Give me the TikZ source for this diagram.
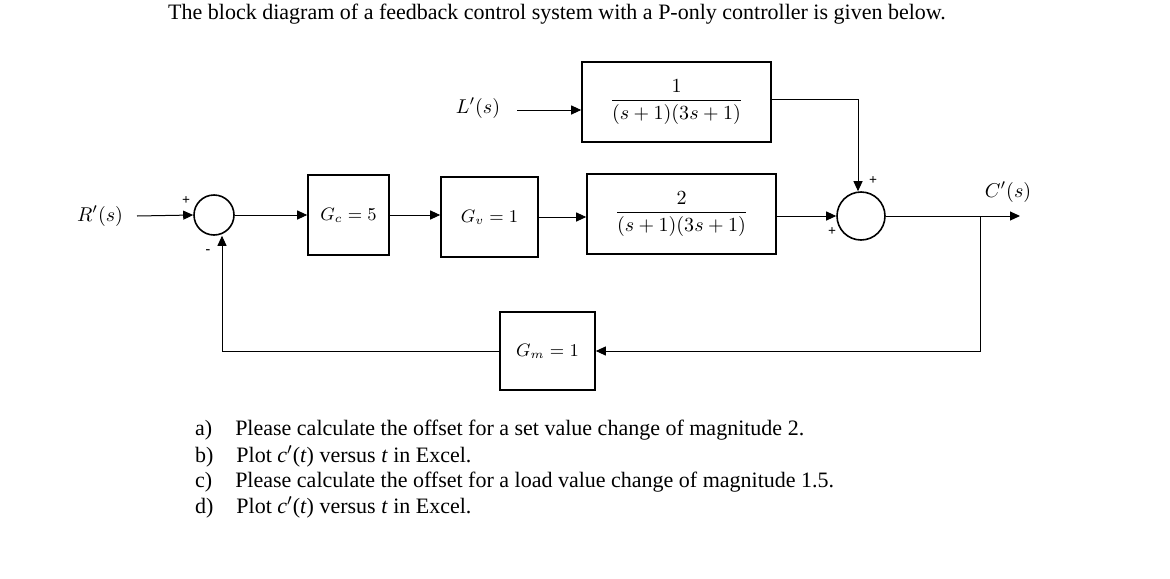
\documentclass[tikz,border=0pt]{standalone}
\usepackage{fontspec}
\setmainfont{Liberation Serif}
\usepackage{amsmath}
\usetikzlibrary{arrows.meta}
\begin{document}
\begin{tikzpicture}[x=0.5pt,y=-0.5pt,
  blk/.style={draw,line width=0.8pt,rectangle},
  sumc/.style={draw,line width=0.8pt,circle,inner sep=0pt},
  sig/.style={draw,line width=0.5pt,-{Triangle[length=5pt,width=4.5pt]}},
  ln/.style={draw,line width=0.5pt},
  sg/.style={font=\fontsize{7}{8}\selectfont\bfseries}]
\useasboundingbox (0,0) rectangle (1170,578);
\node (title) at (557,14) {\fontsize{11}{13}\selectfont The block diagram of a feedback control system with a P-only controller is given below.};
\node (R) at (100,216) {$R'(s)$};
\coordinate (Rs) at (137,216);
\node[sumc,minimum size=40pt*0.5] (s1) at (214,215) {};
\node[blk,minimum width=40.5pt,minimum height=40pt] (gc) at (348.5,215) {\small $G_c = 5$};
\node[blk,minimum width=48.5pt,minimum height=40pt] (gv) at (489.5,217) {\small $G_v = 1$};
\node[blk,minimum width=94.5pt,minimum height=40pt] (gp) at (681.5,214) {$\dfrac{2}{(s+1)(3s+1)}$};
\node (L) at (478,108) {$L'(s)$};
\coordinate (Ls) at (517,110);
\node[blk,minimum width=94.5pt,minimum height=40pt] (gl) at (676.5,102) {$\dfrac{1}{(s+1)(3s+1)}$};
\node[sumc,minimum size=24pt] (s2) at (861,216) {};
\coordinate (br) at (980,216);
\coordinate (out) at (1020,216);
\node (C) at (1008,192) {$C'(s)$};
\node[blk,minimum width=47.5pt,minimum height=39pt] (gm) at (547.5,351) {\small $G_m = 1$};
\coordinate (fb) at (222,351);

\draw[sig] (Rs) -- (s1.west);
\draw[sig] (s1.east) -- (gc.west|-s1.east);
\draw[sig] (gc.east) -- (gv.west|-gc.east);
\draw[sig] (gv.east) -- (gp.west|-gv.east);
\draw[sig] (Ls) -- (gl.west|-Ls);
\draw[sig] (gp.east|-s2.west) -- (s2.west);
\draw[sig] (gl.east|-0,99) -- (858,99) -- (s2.north-|858,0);
\draw[sig] (s2.east) -- (out);
\draw[sig] (br) -- (980,351) -- (gm.east);
\draw[sig] (gm.west) -- (fb) -- (fb|-s1.south);
\node[sg] at (186,201) {+};
\node[sg] at (208,252) {-};
\node[sg] at (873,181) {+};
\node[sg] at (832,232) {+};

\begin{scope}[every node/.style={anchor=west,font=\fontsize{11}{13}\selectfont}]
\node (a) at (188,430) {a)\hspace{0.8em} Please calculate the offset for a set value change of magnitude 2.};
\node (b) at (188,456) {b)\hspace{0.8em} Plot \textit{c}$'$(\textit{t}) versus \textit{t} in Excel.};
\node (c) at (188,482) {c)\hspace{0.8em} Please calculate the offset for a load value change of magnitude 1.5.};
\node (d) at (188,507) {d)\hspace{0.8em} Plot \textit{c}$'$(\textit{t}) versus \textit{t} in Excel.};
\end{scope}
\end{tikzpicture}
\end{document}
